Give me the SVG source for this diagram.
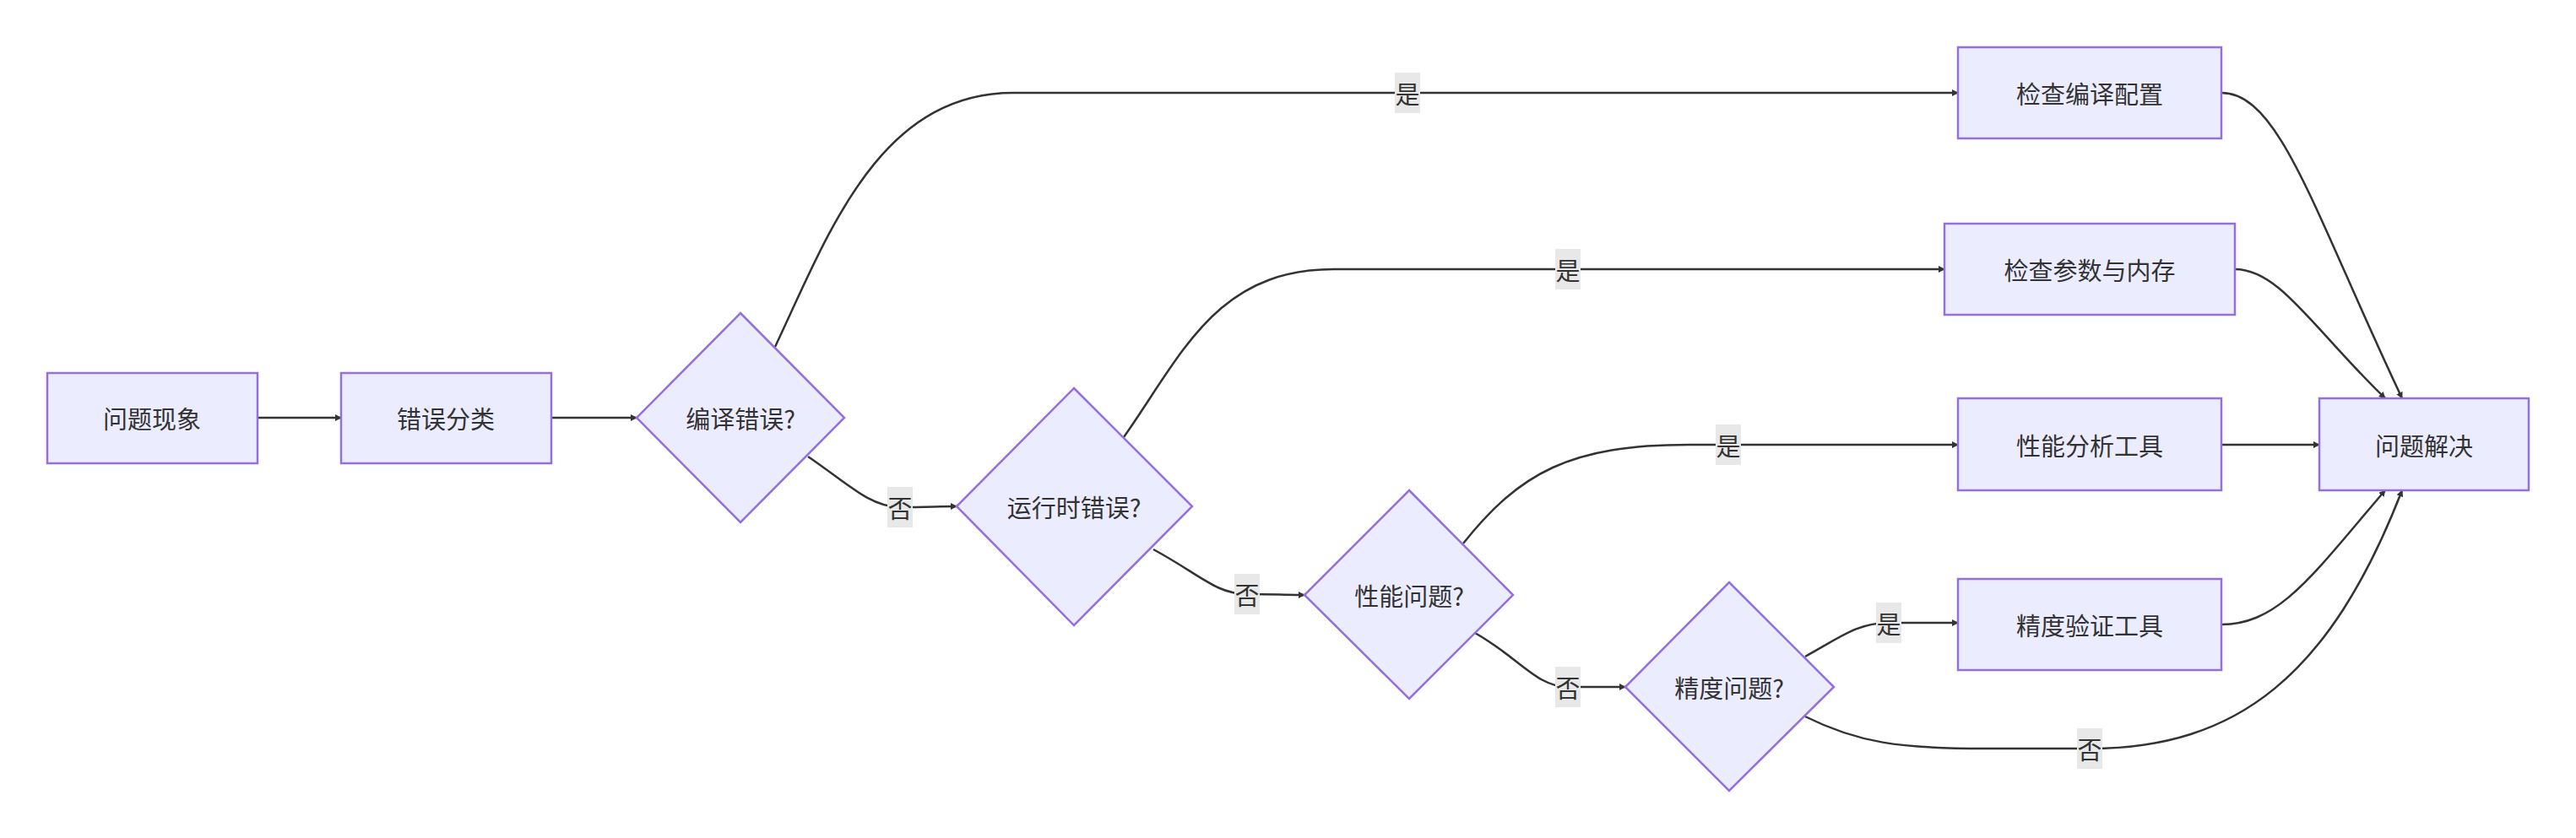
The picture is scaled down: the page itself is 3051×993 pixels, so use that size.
<svg xmlns="http://www.w3.org/2000/svg" width="3051" height="993" viewBox="0 0 3051 993">
<style>
.n{fill:#ECECFF;stroke:#9370DB;stroke-width:2.5}
.t{font-family:"Noto Sans CJK SC","Liberation Sans",sans-serif;font-size:29px;fill:#333;text-anchor:middle;dominant-baseline:central}
.e{fill:none;stroke:#333;stroke-width:2.5;marker-end:url(#a)}
.lb{fill:#e8e8e8}
</style>
<defs><marker id="a" viewBox="0 0 10 10" refX="9" refY="5" markerWidth="8" markerHeight="8" orient="auto" markerUnits="userSpaceOnUse" ><path d="M0,0L10,5L0,10z" fill="#333"/></marker></defs>
<rect width="3051" height="993" fill="#fff"/>
<g id="edges">
<path class="e" d="M305,495H404"/>
<path class="e" d="M653,495H754"/>
<path class="e" d="M918,411C980,280 1040,110 1200,110H2319"/>
<path class="e" d="M957,541C1000,570 1030,601 1066,601C1100,601 1110,600 1133,600"/>
<path class="e" d="M1331,518C1400,420 1440,319 1580,319H2303"/>
<path class="e" d="M1366,651C1420,680 1440,704 1477,704C1510,704 1520,705 1545,705"/>
<path class="e" d="M1733,644C1800,560 1860,527 2000,527H2319"/>
<path class="e" d="M1747,750C1800,780 1820,814 1857,814C1890,814 1900,814 1925,814"/>
<path class="e" d="M2138,778C2180,755 2200,738 2237,738H2319"/>
<path class="e" d="M2138,849C2200,880 2250,887 2350,887H2475C2650,887 2760,800 2845,581"/>
<path class="e" d="M2631,110C2700,110 2740,250 2845,472"/>
<path class="e" d="M2647,319C2700,319 2740,390 2825,472"/>
<path class="e" d="M2631,527H2747"/>
<path class="e" d="M2631,740C2700,740 2740,680 2825,581"/>
</g>
<g id="labels">
<rect class="lb" x="1652" y="86" width="30" height="48"/><text class="t" x="1667" y="110">是</text>
<rect class="lb" x="1842" y="295" width="30" height="48"/><text class="t" x="1857" y="319">是</text>
<rect class="lb" x="2032" y="503" width="30" height="48"/><text class="t" x="2047" y="527">是</text>
<rect class="lb" x="2222" y="714" width="30" height="48"/><text class="t" x="2237" y="738">是</text>
<rect class="lb" x="1051" y="577" width="30" height="48"/><text class="t" x="1066" y="601">否</text>
<rect class="lb" x="1462" y="680" width="30" height="48"/><text class="t" x="1477" y="704">否</text>
<rect class="lb" x="1842" y="790" width="30" height="48"/><text class="t" x="1857" y="814">否</text>
<rect class="lb" x="2460" y="863" width="30" height="48"/><text class="t" x="2475" y="887">否</text>
</g>
<g id="n1"><rect class="n" x="56" y="442" width="249" height="107"/><text class="t" x="180" y="495">问题现象</text></g>
<g id="n2"><rect class="n" x="404" y="442" width="249" height="107"/><text class="t" x="528" y="495">错误分类</text></g>
<g id="d1"><polygon class="n" points="877,371 1000,495 877,619 754,495"/><text class="t" x="877" y="495">编译错误?</text></g>
<g id="d2"><polygon class="n" points="1272,460 1412,600 1272,741 1133,600"/><text class="t" x="1272" y="600">运行时错误?</text></g>
<g id="d3"><polygon class="n" points="1669,581 1792,705 1669,828 1545,705"/><text class="t" x="1669" y="705">性能问题?</text></g>
<g id="d4"><polygon class="n" points="2048,690 2172,814 2048,937 1925,814"/><text class="t" x="2048" y="814">精度问题?</text></g>
<g id="b1"><rect class="n" x="2319" y="56" width="312" height="108"/><text class="t" x="2475" y="110">检查编译配置</text></g>
<g id="b2"><rect class="n" x="2303" y="265" width="344" height="108"/><text class="t" x="2475" y="319">检查参数与内存</text></g>
<g id="b3"><rect class="n" x="2319" y="472" width="312" height="109"/><text class="t" x="2475" y="527">性能分析工具</text></g>
<g id="b4"><rect class="n" x="2319" y="686" width="312" height="108"/><text class="t" x="2475" y="740">精度验证工具</text></g>
<g id="end"><rect class="n" x="2747" y="472" width="248" height="109"/><text class="t" x="2871" y="527">问题解决</text></g>
</svg>
